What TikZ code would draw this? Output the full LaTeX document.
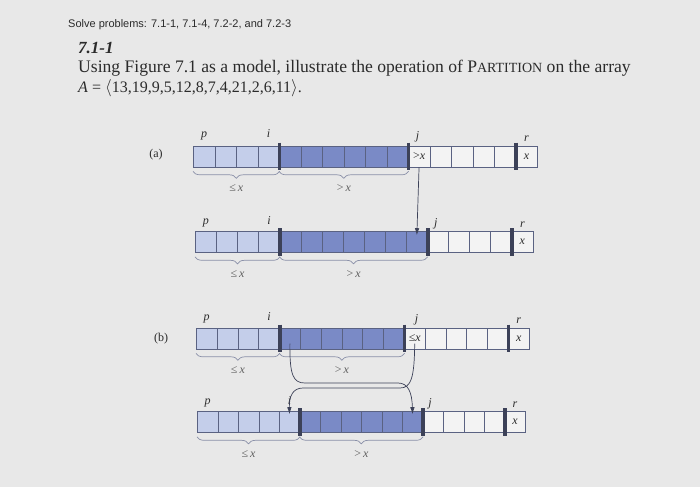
\documentclass[tikz,border=0pt]{standalone}
\usepackage{fontspec}
\setmainfont{Liberation Serif}
\newfontfamily\headfont{Liberation Sans}
\usetikzlibrary{decorations.pathreplacing, arrows.meta}

\definecolor{paper}{HTML}{E8E8E8}
\definecolor{ink}{HTML}{2B2B2B}
\definecolor{lightcell}{HTML}{C4CEEA}
\definecolor{darkcell}{HTML}{7A8AC6}
\definecolor{emptycell}{HTML}{F3F3F3}
\definecolor{celledge}{HTML}{5A6282}
\definecolor{barcol}{HTML}{3C4158}
\definecolor{bracecol}{HTML}{8A90A8}

\tikzset{
  cell/.style={draw=celledge, line width=0.6pt, minimum height=21pt, inner sep=0pt, anchor=west},
  divider/.style={barcol, line width=3.6pt},
  idx/.style={font=\fontsize{12}{14}\selectfont\itshape, text=ink, inner sep=0pt, anchor=base},
  celltxt/.style={font=\fontsize{12}{14}\selectfont, text=ink, inner sep=0pt},
  brc/.style={bracecol, line width=0.7pt, decorate, decoration={brace, mirror, amplitude=7pt}},
  brclabel/.style={font=\fontsize{12}{14}\selectfont, text=ink!75, inner sep=0pt},
  swaparrow/.style={-{Latex[length=7pt,width=4.5pt]}, draw=barcol, line width=0.7pt},
}

% one row of 16 cells: name, left x, middle y, cell width, light cells, dark cells
\newcommand{\partrow}[6]{%
  \foreach \k in {1,...,16}{%
    \ifnum\k>#5\relax
      \ifnum\k>\numexpr#5+#6\relax \def\cellfill{emptycell}\else \def\cellfill{darkcell}\fi
    \else \def\cellfill{lightcell}\fi
    \node[cell, minimum width=#4pt, fill=\cellfill] (#1-\k) at ({#2+(\k-1)*#4}, #3) {};
  }%
}
\newcommand{\partbar}[1]{\draw[divider] ([yshift=3pt]#1.north east) -- ([yshift=-3pt]#1.south east);}

\begin{document}
\begin{tikzpicture}[x=1pt, y=-1pt]
  \fill[paper] (0,0) rectangle (700,487);
  \useasboundingbox (0,0) rectangle (700,487);

  % text of the exercise
  \node[anchor=base west, inner sep=0pt, text=ink, font=\headfont\fontsize{11}{13}\selectfont] (head) at (68,28)
    {Solve problems: 7.1-1, 7.1-4, 7.2-2, and 7.2-3};
  \node[anchor=base west, inner sep=0pt, text=ink, font=\fontsize{17}{20}\selectfont\bfseries\itshape] (exnum) at (78,53) {7.1-1};
  \node[anchor=base west, inner sep=0pt, text=ink, font=\fontsize{17.6}{20}\selectfont] (task) at (78,72)
    {Using Figure 7.1 as a model, illustrate the operation of P{\fontsize{14}{16}\selectfont ARTITION} on the array};
  \node[anchor=base west, inner sep=0pt, text=ink, font=\fontsize{16}{19}\selectfont] (arr) at (78,92)
    {\textit{A} = $\langle$13,19,9,5,12,8,7,4,21,2,6,11$\rangle$.};

  \node[celltxt] (lab-a) at (156,155) {(a)};
  \node[celltxt] (lab-b) at (161,339) {(b)};

  % (a) before
  \partrow{ra}{193}{156.5}{21.5}{4}{6}
  \partbar{ra-4} \partbar{ra-10} \partbar{ra-15}
  \node[celltxt] (ra-gt) at (ra-11) {>\textit{x}};
  \node[celltxt] (ra-x) at (ra-16) {\textit{x}};
  \node[idx] (ra-p) at ([yshift=8pt]ra-1.north) {p};
  \node[idx] (ra-i) at ([yshift=8pt]ra-4.north) {i};
  \node[idx] (ra-j) at ([xshift=9pt,yshift=6pt]ra-10.north east) {j};
  \node[idx] (ra-r) at ([yshift=4pt]ra-16.north) {r};
  \draw[brc] ([yshift=-4pt]ra-1.south west) -- ([yshift=-4pt]ra-4.south east)
    node[brclabel, midway, below=13pt] (ra-le) {≤\,\textit{x}};
  \draw[brc] ([yshift=-4pt]ra-5.south west) -- ([yshift=-4pt]ra-10.south east)
    node[brclabel, midway, below=13pt] (ra-gr) {>\,\textit{x}};

  % (a) after
  \partrow{rb}{195}{242}{21.1}{4}{7}
  \partbar{rb-4} \partbar{rb-11} \partbar{rb-15}
  \node[celltxt] (rb-x) at (rb-16) {\textit{x}};
  \node[idx] (rb-p) at ([yshift=7pt]rb-1.north) {p};
  \node[idx] (rb-i) at ([yshift=7pt]rb-4.north) {i};
  \node[idx] (rb-j) at ([xshift=8pt,yshift=5pt]rb-11.north east) {j};
  \node[idx] (rb-r) at ([yshift=4pt]rb-16.north) {r};
  \draw[brc] ([yshift=-4pt]rb-1.south west) -- ([yshift=-4pt]rb-4.south east)
    node[brclabel, midway, below=13pt] (rb-le) {≤\,\textit{x}};
  \draw[brc] ([yshift=-4pt]rb-5.south west) -- ([yshift=-4pt]rb-11.south east)
    node[brclabel, midway, below=13pt] (rb-gr) {>\,\textit{x}};
  \draw[swaparrow] (ra-11.south) -- ([yshift=-4pt]rb-11.north);

  % (b) before
  \partrow{rc}{196}{338.5}{20.8}{4}{6}
  \partbar{rc-4} \partbar{rc-10} \partbar{rc-15}
  \node[celltxt] (rc-le) at (rc-11) {≤\textit{x}};
  \node[celltxt] (rc-x) at (rc-16) {\textit{x}};
  \node[idx] (rc-p) at ([yshift=7pt]rc-1.north) {p};
  \node[idx] (rc-i) at ([yshift=7pt]rc-4.north) {i};
  \node[idx] (rc-j) at ([xshift=12pt,yshift=5pt]rc-10.north east) {j};
  \node[idx] (rc-r) at ([yshift=4pt]rc-16.north) {r};
  \draw[brc] ([yshift=-4pt]rc-1.south west) -- ([yshift=-4pt]rc-4.south east)
    node[brclabel, midway, below=13pt] (rc-lo) {≤\,\textit{x}};
  \draw[brc] ([yshift=-4pt]rc-5.south west) -- ([yshift=-4pt]rc-10.south east)
    node[brclabel, midway, below=13pt] (rc-gr) {>\,\textit{x}};

  % (b) after
  \partrow{rd}{197}{422}{20.5}{5}{6}
  \partbar{rd-5} \partbar{rd-11} \partbar{rd-15}
  \node[celltxt] (rd-x) at (rd-16) {\textit{x}};
  \node[idx] (rd-p) at ([yshift=7pt]rd-1.north) {p};
  \node[idx] (rd-i) at ([yshift=7pt]rd-5.north) {i};
  \node[idx] (rd-j) at ([xshift=7pt,yshift=5pt]rd-11.north east) {j};
  \node[idx] (rd-r) at ([yshift=4pt]rd-16.north) {r};
  \draw[brc] ([yshift=-4pt]rd-1.south west) -- ([yshift=-4pt]rd-5.south east)
    node[brclabel, midway, below=13pt] (rd-le) {≤\,\textit{x}};
  \draw[brc] ([yshift=-4pt]rd-6.south west) -- ([yshift=-4pt]rd-11.south east)
    node[brclabel, midway, below=13pt] (rd-gr) {>\,\textit{x}};

  % the swap of A[i+1] and A[j]
  \draw[swaparrow] ([yshift=-5pt]rc-5.center) .. controls (289.6,375) and (293,383) .. (305,383)
    -- (398,383) .. controls (408,383) and (412,392) .. ([yshift=-3pt]rd-11.north);
  \draw[swaparrow] ([yshift=-5pt]rc-11.center) .. controls (414.4,378) and (411,388) .. (400,388)
    -- (303,388) .. controls (293,388) and (289,396) .. ([yshift=-3pt]rd-5.north);
\end{tikzpicture}
\end{document}
